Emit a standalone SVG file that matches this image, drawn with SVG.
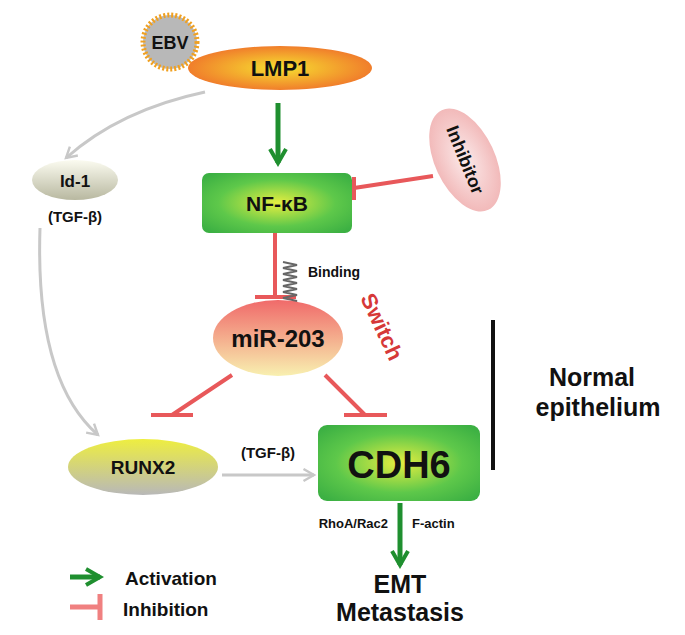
<svg xmlns="http://www.w3.org/2000/svg" width="685" height="635" viewBox="0 0 685 635">
<style>
text{font-family:"Liberation Sans",Arial,sans-serif;font-weight:bold;fill:#111}
.g{stroke:#1f8f2f;stroke-width:5;fill:none}
.r{stroke:#e8585a;stroke-width:4;fill:none}
.gr{stroke:#c8c8c8;stroke-width:3;fill:none}
</style>
<defs>
<marker id="ga" viewBox="0 0 10 10" refX="8" refY="5" markerWidth="4" markerHeight="4" orient="auto"><path d="M1,1 L8,5 L1,9" fill="none" stroke="#1f8f2f" stroke-width="2"/></marker>
<marker id="gra" viewBox="0 0 10 10" refX="8" refY="5" markerWidth="5" markerHeight="5" orient="auto"><path d="M1,1 L8,5 L1,9" fill="none" stroke="#c8c8c8" stroke-width="1.6"/></marker>
<radialGradient id="lmp" cx="50%" cy="50%" r="60%"><stop offset="0" stop-color="#f7e030"/><stop offset="1" stop-color="#ef6a2a"/></radialGradient>
<radialGradient id="grn" cx="50%" cy="50%" r="65%"><stop offset="0" stop-color="#e6ee40"/><stop offset="0.6" stop-color="#5ec84a"/><stop offset="1" stop-color="#3cb043"/></radialGradient>
<linearGradient id="mir" x1="0" y1="0" x2="0" y2="1"><stop offset="0" stop-color="#f06a6a"/><stop offset="1" stop-color="#f8f0b0"/></linearGradient>
<linearGradient id="ry" x1="0" y1="0" x2="0" y2="1"><stop offset="0" stop-color="#eeee40"/><stop offset="1" stop-color="#b8b8b8"/></linearGradient>
<linearGradient id="id" x1="0" y1="0" x2="0" y2="1"><stop offset="0" stop-color="#fbfbf0"/><stop offset="1" stop-color="#b8b8a0"/></linearGradient>
<radialGradient id="inh" cx="50%" cy="50%" r="60%"><stop offset="0" stop-color="#fbeaea"/><stop offset="1" stop-color="#f0b0b0"/></radialGradient>
</defs>
<g id="connectors">
<path class="gr" d="M205,92 Q120,110 66,158" marker-end="url(#gra)"/>
<path class="gr" d="M40,228 Q35,380 98,435" marker-end="url(#gra)"/>
<line class="gr" x1="222" y1="475" x2="314" y2="475" marker-end="url(#gra)"/>
<line class="g" x1="278" y1="103" x2="278" y2="163" marker-end="url(#ga)"/>
<line class="g" x1="400" y1="503" x2="400" y2="565" marker-end="url(#ga)"/>
<path class="r" d="M433,176 L354,188 M354,177 L354,200"/>
<path class="r" d="M275,233 L275,297 M255,297 L296,297"/>
<path fill="none" stroke="#666" stroke-width="1.8" d="M283,262 L297,265 L283,268 L297,271 L283,274 L297,277 L283,280 L297,283 L283,286 L297,289 L283,292 L297,295 L283,298 L297,301 L283,304"/>
<path class="r" d="M232,375 L172,415 M151,415 L193,415"/>
<path class="r" d="M325,375 L365,415 M344,415 L387,415"/>
<line x1="493" y1="320" x2="493" y2="470" stroke="#111" stroke-width="4"/>
</g>
<g id="EBV"><circle cx="170" cy="42" r="27" fill="#b8b8b8" stroke="#f0a020" stroke-width="5" stroke-dasharray="2 2"/><text x="170" y="49" font-size="18" text-anchor="middle">EBV</text></g>
<g id="LMP1"><ellipse cx="280" cy="68" rx="92" ry="22" fill="url(#lmp)"/><text x="280" y="76" font-size="22" text-anchor="middle">LMP1</text></g>
<g id="NFkB"><rect x="202" y="173" width="150" height="60" rx="7" fill="url(#grn)"/><text x="277" y="211" font-size="21" text-anchor="middle">NF-κB</text></g>
<g id="Inhibitor"><ellipse cx="465" cy="160" rx="55" ry="30" transform="rotate(65 465 160)" fill="url(#inh)"/><text x="465" y="166" font-size="18" text-anchor="middle" font-weight="normal" transform="rotate(68 465 160)">Inhibitor</text></g>
<g id="Id1"><ellipse cx="75" cy="180" rx="43" ry="20" fill="url(#id)"/><text x="75" y="187" font-size="17" text-anchor="middle">Id-1</text><text x="75" y="222" font-size="15" text-anchor="middle">(TGF-β)</text></g>
<g id="miR203"><ellipse cx="278" cy="338" rx="65" ry="38" fill="url(#mir)"/><text x="278" y="347" font-size="24" text-anchor="middle">miR-203</text></g>
<text x="375" y="330" font-size="22" fill="#d63838" style="fill:#d63838" text-anchor="middle" transform="rotate(65 375 330)">Switch</text>
<text x="308" y="277" font-size="14">Binding</text>
<g id="RUNX2"><ellipse cx="143" cy="467" rx="75" ry="28" fill="url(#ry)"/><text x="143" y="474" font-size="19" text-anchor="middle">RUNX2</text></g>
<text x="268" y="458" font-size="15" text-anchor="middle">(TGF-β)</text>
<g id="CDH6"><rect x="318" y="425" width="162" height="76" rx="9" fill="url(#grn)"/><text x="399" y="478" font-size="38" text-anchor="middle">CDH6</text></g>
<text x="592" y="386" font-size="25" text-anchor="middle">Normal</text>
<text x="598" y="416" font-size="25" text-anchor="middle">epithelium</text>
<text x="388" y="528" font-size="13" text-anchor="end">RhoA/Rac2</text>
<text x="412" y="528" font-size="13">F-actin</text>
<g id="EMT"><text x="400" y="593" font-size="25" text-anchor="middle">EMT</text><text x="400" y="621" font-size="25" text-anchor="middle">Metastasis</text></g>
<g id="legend">
<line class="g" x1="70" y1="577" x2="100" y2="577" marker-end="url(#ga)"/>
<text x="125" y="585" font-size="19">Activation</text>
<path stroke="#f08080" stroke-width="5" fill="none" d="M70,607 L100,607 M100,594 L100,620"/>
<text x="123" y="616" font-size="19">Inhibition</text>
</g>
</svg>
